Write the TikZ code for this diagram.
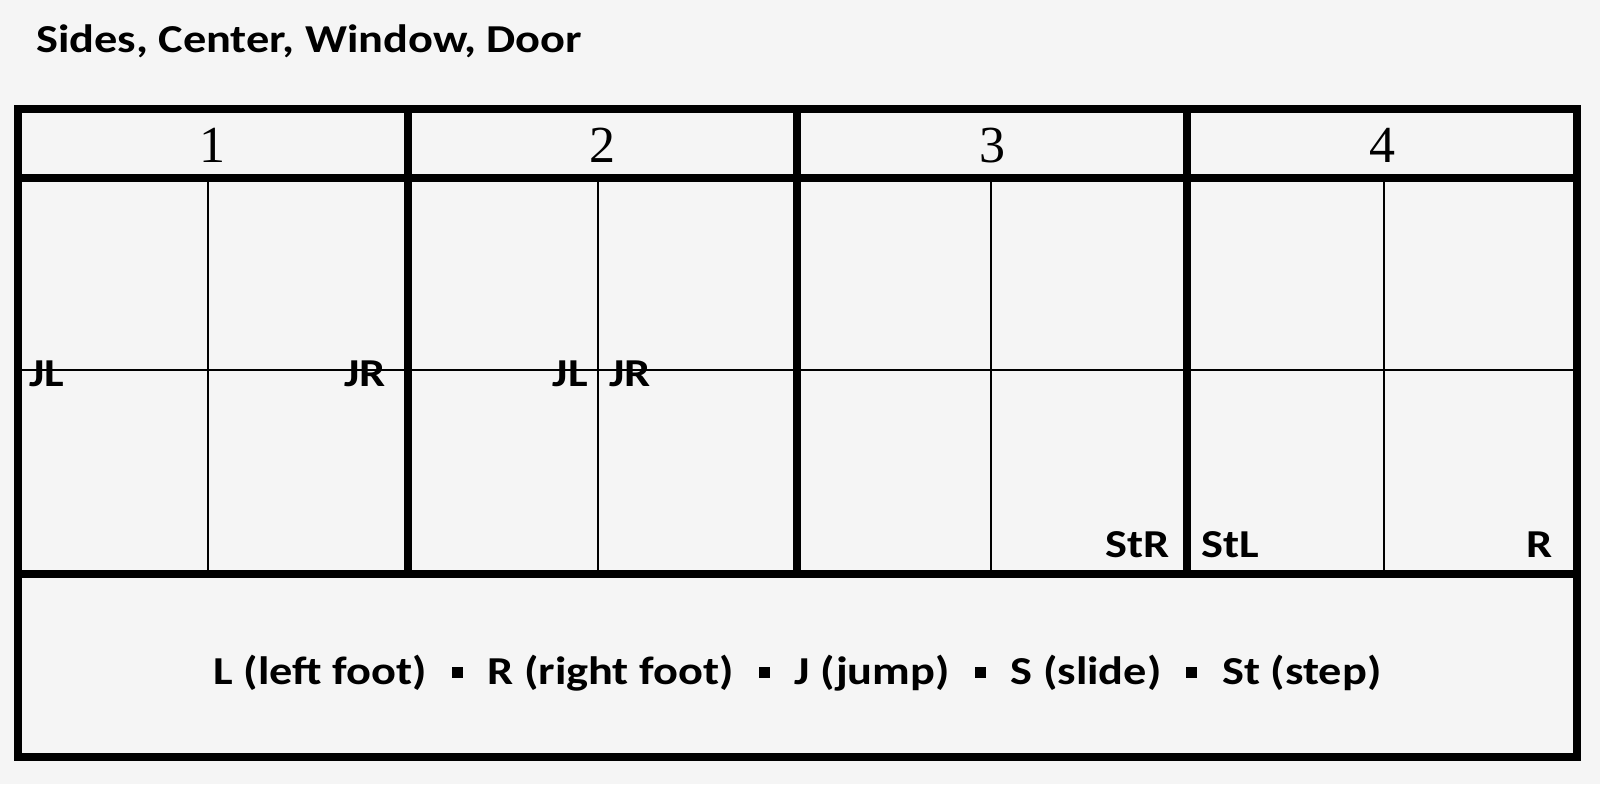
\documentclass[tikz,border=0pt]{standalone}
\usepackage{fontspec}
\setmainfont{Carlito}[FakeStretch=1.17]
\newfontfamily\numfont{Liberation Serif}
\definecolor{paper}{RGB}{245,245,245}
\newcommand{\legendsep}{\hspace{25pt}\rule[6pt]{11pt}{11pt}\hspace{25pt}}

\begin{document}
\begin{tikzpicture}[x=1pt, y=-1pt]

\tikzstyle{frame}=[draw, line width=7.5pt]
\tikzstyle{grid}=[draw, line width=2pt]
\tikzstyle{number}=[anchor=base, inner sep=0pt, font=\numfont\fontsize{52}{52}\selectfont]
\tikzstyle{move}=[inner sep=0pt, font=\bfseries\fontsize{39.6}{40}\selectfont]

\fill [paper] (0,0) rectangle (1600,784);
\useasboundingbox (0,0) rectangle (1600,784);

\node [move, anchor=base west] (title) at (36, 52.5) {Sides, Center, Window, Door};

% thin lines inside the four squares
\path [grid] (18,370) -- (1577,370);
\path [grid] (208,178) -- (208,574);
\path [grid] (598,178) -- (598,574);
\path [grid] (991,178) -- (991,574);
\path [grid] (1384,178) -- (1384,574);

% thick frame
\path [frame] (18,109) rectangle (1577,757);
\path [frame] (18,178) -- (1577,178);
\path [frame] (18,574) -- (1577,574);
\path [frame] (408,109) -- (408,574);
\path [frame] (797,109) -- (797,574);
\path [frame] (1187,109) -- (1187,574);

\node [number] (num1) at (212.5,162.5) {1};
\node [number] (num2) at (602.5,162.5) {2};
\node [number] (num3) at (992,162.5) {3};
\node [number] (num4) at (1382,162.5) {4};

\node [move, anchor=base west] (jl1) at (29,386) {JL};
\node [move, anchor=base east] (jr1) at (386,386) {JR};
\node [move, anchor=base east] (jl2) at (588,386) {JL};
\node [move, anchor=base west] (jr2) at (609,386) {JR};
\node [move, anchor=base east] (str3) at (1170,557) {StR};
\node [move, anchor=base west] (stl4) at (1201,557) {StL};
\node [move, anchor=base east] (r4) at (1553,557) {R};

\node [move, anchor=base] (legend) at (797.5,684) {L (left foot)\legendsep R (right foot)\legendsep J (jump)\legendsep S (slide)\legendsep St (step)};

\end{tikzpicture}
\end{document}
